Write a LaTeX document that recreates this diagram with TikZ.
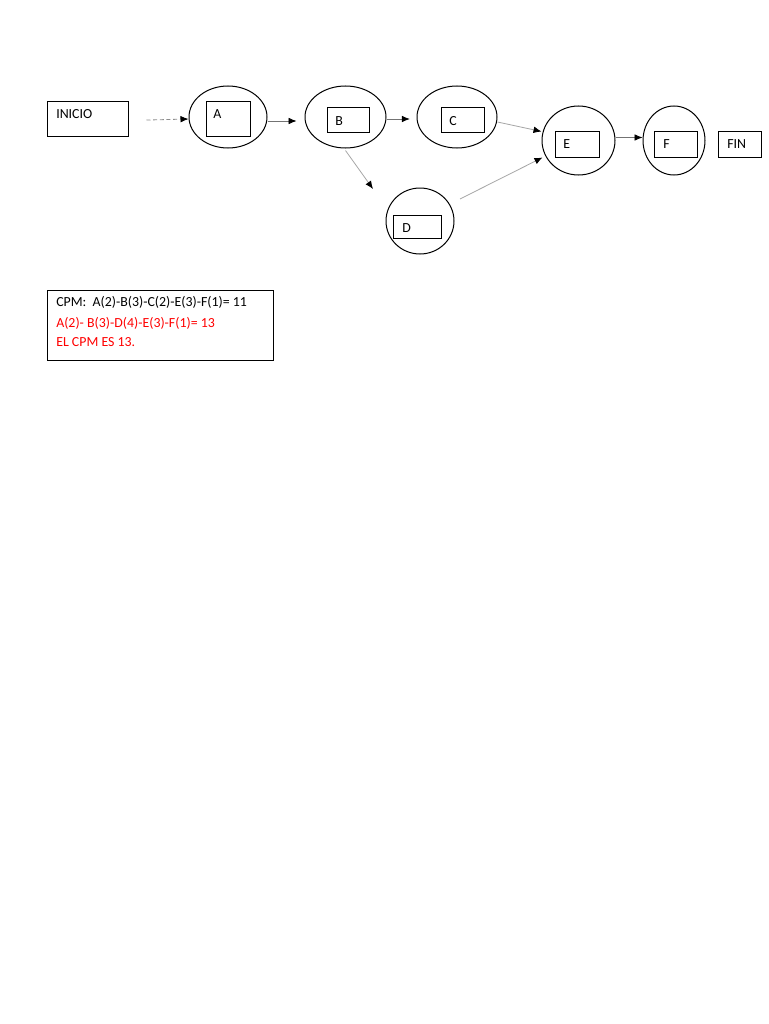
\documentclass[tikz,border=0pt]{standalone}
\usepackage{fontspec}
\setmainfont{Carlito}
\usetikzlibrary{shapes.geometric,arrows.meta}
\begin{document}
\begin{tikzpicture}[x=0.75pt,y=-0.75pt,
 oval/.style={draw=black,ellipse,inner sep=0pt,line width=0.75pt},
 box/.style={draw=black,rectangle,inner sep=0pt,line width=0.75pt},
 lbl/.style={inner sep=0pt,font=\fontsize{10.4}{12}\selectfont,anchor=west},
 arr/.style={-{Latex[length=6pt,width=5pt,black]},line width=0.6pt,draw=black!55},
 arrl/.style={-{Latex[length=6pt,width=5pt,black]},line width=0.6pt,draw=black!35},
 ]
\useasboundingbox (0,0) rectangle (768,1024);
\fill[white] (0,0) rectangle (768,1024);
% start
\node[box,minimum width=60.75pt,minimum height=26.25pt] (inicio) at (87.5,118.5) {};
\node[lbl] (tinicio) at (56,114) {INICIO};
% A
\node[oval,minimum width=58.5pt,minimum height=46.5pt] (A) at (228,117) {};
\node[box,minimum width=33pt,minimum height=26.25pt] (bA) at (228,118.5) {};
\node[lbl] (tA) at (213,114) {A};
% B
\node[oval,minimum width=60.75pt,minimum height=46.5pt] (B) at (345.5,117) {};
\node[box,minimum width=31.5pt,minimum height=18.75pt] (bB) at (348,119.5) {};
\node[lbl] (tB) at (335,121) {B};
% C
\node[oval,minimum width=60pt,minimum height=46.5pt] (C) at (457,117) {};
\node[box,minimum width=32.25pt,minimum height=18.75pt] (bC) at (462.5,119.5) {};
\node[lbl] (tC) at (449,121) {C};
% D
\node[oval,minimum width=51pt,minimum height=49.5pt] (D) at (420,221) {};
\node[box,minimum width=36pt,minimum height=17.25pt] (bD) at (417,226.5) {};
\node[lbl] (tD) at (402,228) {D};
% E
\node[oval,minimum width=54.75pt,minimum height=51.75pt] (E) at (578.5,140.5) {};
\node[box,minimum width=33pt,minimum height=19.5pt] (bE) at (577,144) {};
\node[lbl] (tE) at (563,144) {E};
% F
\node[oval,minimum width=46.5pt,minimum height=51.75pt] (F) at (674,140.5) {};
\node[box,minimum width=32.25pt,minimum height=19.5pt] (bF) at (675.5,144) {};
\node[lbl] (tF) at (663,144) {F};
% FIN
\node[box,minimum width=32.25pt,minimum height=19.5pt] (fin) at (739.5,144) {};
\node[lbl] (tfin) at (727,144) {FIN};
% connectors
\draw[arr,densely dashed,draw=black!45,shorten <=13.5pt] ([yshift=-1.5pt]inicio.east) -- ([yshift=-1.5pt]A.west);
\draw[arr] ([yshift=-3pt]A.east) -- ([yshift=-3pt,xshift=-6pt]B.west);
\draw[arr] ([yshift=-1.5pt]B.east) -- ([yshift=-1.5pt,xshift=-5pt]C.west);
\draw[arrl] ([yshift=-3.75pt]C.east) -- ([yshift=6.75pt]E.west);
\draw[arrl] ([yshift=-1.5pt]B.south) -- ([xshift=-35.25pt,yshift=24pt]D.center);
\draw[arrl] ([xshift=30pt,yshift=16.5pt]D.center) -- ([xshift=-27pt,yshift=-12.75pt]E.center);
\draw[arr] ([yshift=2.25pt]E.east) -- ([yshift=2.25pt]F.west);
% CPM box
\node[box,minimum width=169.5pt,minimum height=52.5pt] (cpm) at (160,325) {};
\node[lbl] (t1) at (56,302) {CPM:\ \ A(2)-B(3)-C(2)-E(3)-F(1)= 11};
\node[lbl,text=red] (t2) at (56,323) {A(2)- B(3)-D(4)-E(3)-F(1)= 13};
\node[lbl,text=red] (t3) at (56,342) {EL CPM ES 13.};
\end{tikzpicture}
\end{document}
